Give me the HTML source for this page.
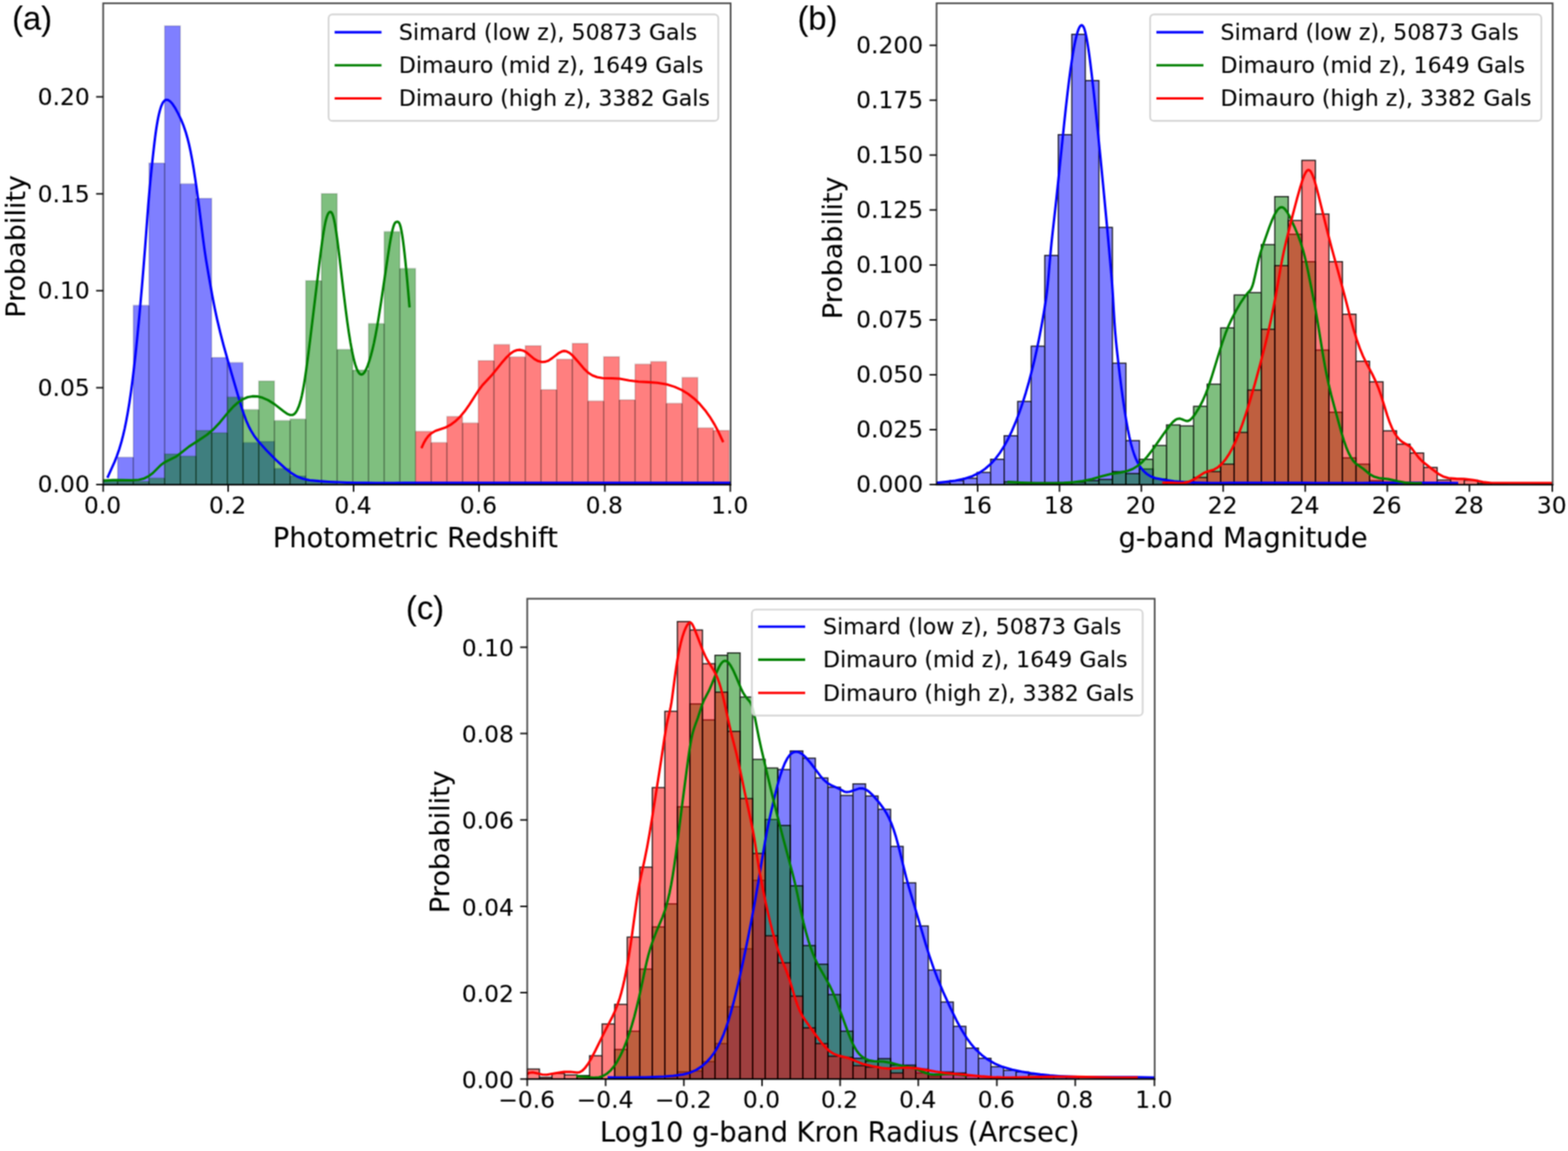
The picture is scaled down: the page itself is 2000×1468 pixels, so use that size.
<!DOCTYPE html>
<html lang="en"><head><meta charset="utf-8"><title>Galaxy sample distributions</title>
<style>html,body{margin:0;padding:0;background:#fff}body{width:2000px;height:1468px;overflow:hidden}svg{display:block}text{font-family:"DejaVu Sans","Liberation Sans",sans-serif;fill:#000;stroke:#000;stroke-width:0.1px}.tk{font-size:29.9px}.lg{font-size:28.2px}.lb{font-size:34.8px}.pn{font-family:"Liberation Sans","DejaVu Sans",sans-serif;font-size:41.8px}</style></head><body>
<svg width="2000" height="1468" viewBox="0 0 2000 1468">
<defs><filter id="soft" x="0" y="0" width="2000" height="1468" filterUnits="userSpaceOnUse" color-interpolation-filters="sRGB"><feConvolveMatrix order="3" kernelMatrix="0.0625 0.1250 0.0625 0.1250 0.2500 0.1250 0.0625 0.1250 0.0625" edgeMode="duplicate" preserveAlpha="true"/></filter>
<clipPath id="cpa"><rect x="131.6" y="4.2" width="800.3" height="614"/></clipPath>
<clipPath id="cpb"><rect x="1194.6" y="4.2" width="785.8" height="614"/></clipPath>
<clipPath id="cpc"><rect x="672.5" y="763.6" width="800.3" height="612.7"/></clipPath>
</defs>
<g filter="url(#soft)">
<rect x="-10" y="-10" width="2020" height="1488" fill="#fff"/>
<g id="panel-a">
<g clip-path="url(#cpa)">
<path d="M130 612H150V618.2H130ZM150 583.3H170V618.2H150ZM170 389.5H190V618.2H170ZM190 208H210V618.2H190ZM210 33H230V618.2H210ZM230 234.5H250V618.2H230ZM250 253H270V618.2H250ZM270 456H290V618.2H270ZM290 462.5H310V618.2H290ZM310 564.5H330V618.2H310ZM330 563H350V618.2H330ZM350 597.5H370V618.2H350ZM370 607H390V618.2H370ZM390 613H410V618.2H390ZM410 615H430V618.2H410Z" fill="#0000ff" fill-opacity="0.5"/>
<path d="M130 612H150M150 583.3H170M170 389.5H190M190 208H210M210 33H230M230 234.5H250M250 253H270M270 456H290M290 462.5H310M310 564.5H330M330 563H350M350 597.5H370M370 607H390M390 613H410M410 615H430M130 611V618.2M150 582.3V612M170 388.5V583.3M190 207V389.5M210 32V208M230 32V234.5M250 233.5V253M270 252V456M290 455V462.5M310 461.5V564.5M330 562V564.5M350 562V597.5M370 596.5V607M390 606V613M410 612V615M430 614V618.2" fill="none" stroke="#000" stroke-opacity="0.12" stroke-width="2.0"/>
<path d="M150 612V618.2M170 583.3V618.2M190 389.5V618.2M210 208V618.2M230 234.5V618.2M250 253V618.2M270 456V618.2M290 462.5V618.2M310 564.5V618.2M330 564.5V618.2M350 597.5V618.2M370 607V618.2M390 613V618.2M410 615V618.2" fill="none" stroke="#000" stroke-opacity="0.3" stroke-width="2.0"/>
<path d="M130 611.5H150V618.2H130ZM150 614H170V618.2H150ZM170 614H190V618.2H170ZM190 609.7H210V618.2H190ZM210 579H230V618.2H210ZM230 581.7H250V618.2H230ZM250 549H270V618.2H250ZM270 552H290V618.2H270ZM290 506.5H310V618.2H290ZM310 522.5H330V618.2H310ZM330 486H350V618.2H330ZM350 536.5H370V618.2H350ZM370 534.5H390V618.2H370ZM390 358H410V618.2H390ZM410 247H430V618.2H410ZM430 445.75H450V618.2H430ZM450 472H470V618.2H450ZM470 412.75H490V618.2H470ZM490 295.5H510V618.2H490ZM510 342.5H530V618.2H510Z" fill="#008000" fill-opacity="0.5"/>
<path d="M130 611.5H150M150 614H170M170 614H190M190 609.7H210M210 579H230M230 581.7H250M250 549H270M270 552H290M290 506.5H310M310 522.5H330M330 486H350M350 536.5H370M370 534.5H390M390 358H410M410 247H430M430 445.75H450M450 472H470M470 412.75H490M490 295.5H510M510 342.5H530M130 610.5V618.2M150 610.5V614M190 608.7V614M210 578V609.7M230 578V581.7M250 548V581.7M270 548V552M290 505.5V552M310 505.5V522.5M330 485V522.5M350 485V536.5M370 533.5V536.5M390 357V534.5M410 246V358M430 246V445.75M450 444.75V472M470 411.75V472M490 294.5V412.75M510 294.5V342.5M530 341.5V618.2" fill="none" stroke="#000" stroke-opacity="0.12" stroke-width="2.0"/>
<path d="M150 614V618.2M170 614V618.2M190 614V618.2M210 609.7V618.2M230 581.7V618.2M250 581.7V618.2M270 552V618.2M290 552V618.2M310 522.5V618.2M330 522.5V618.2M350 536.5V618.2M370 536.5V618.2M390 534.5V618.2M410 358V618.2M430 445.75V618.2M450 472V618.2M470 472V618.2M490 412.75V618.2M510 342.5V618.2" fill="none" stroke="#000" stroke-opacity="0.3" stroke-width="2.0"/>
<path d="M530 550.25H550V618.2H530ZM550 564.5H570V618.2H550ZM570 531.25H590V618.2H570ZM590 539.5H610V618.2H590ZM610 460H630V618.2H610ZM630 439.5H650V618.2H630ZM650 455.25H670V618.2H650ZM670 441H690V618.2H670ZM690 497H710V618.2H690ZM710 458.25H730V618.2H710ZM730 438H750V618.2H730ZM750 511.5H770V618.2H750ZM770 455H790V618.2H770ZM790 510H810V618.2H790ZM810 464.5H830V618.2H810ZM830 461.25H850V618.2H830ZM850 514.5H870V618.2H850ZM870 481.5H890V618.2H870ZM890 545.75H910V618.2H890ZM910 549H930V618.2H910Z" fill="#ff0000" fill-opacity="0.5"/>
<path d="M530 550.25H550M550 564.5H570M570 531.25H590M590 539.5H610M610 460H630M630 439.5H650M650 455.25H670M670 441H690M690 497H710M710 458.25H730M730 438H750M750 511.5H770M770 455H790M790 510H810M810 464.5H830M830 461.25H850M850 514.5H870M870 481.5H890M890 545.75H910M910 549H930M530 549.25V618.2M550 549.25V564.5M570 530.25V564.5M590 530.25V539.5M610 459V539.5M630 438.5V460M650 438.5V455.25M670 440V455.25M690 440V497M710 457.25V497M730 437V458.25M750 437V511.5M770 454V511.5M790 454V510M810 463.5V510M830 460.25V464.5M850 460.25V514.5M870 480.5V514.5M890 480.5V545.75M910 544.75V549M930 548V618.2" fill="none" stroke="#000" stroke-opacity="0.12" stroke-width="2.0"/>
<path d="M550 564.5V618.2M570 564.5V618.2M590 539.5V618.2M610 539.5V618.2M630 460V618.2M650 455.25V618.2M670 455.25V618.2M690 497V618.2M710 497V618.2M730 458.25V618.2M750 511.5V618.2M770 511.5V618.2M790 510V618.2M810 510V618.2M830 464.5V618.2M850 514.5V618.2M870 514.5V618.2M890 545.75V618.2M910 549V618.2" fill="none" stroke="#000" stroke-opacity="0.3" stroke-width="2.0"/>
<path d="M137 609.31L146 589.33L149 581.81L152 573.21L155 563.14L157 555.41L159 546.74L161 537L163 526.09L165 513.88L167 500.26L169 485.13L171 468.51L173 450.47L175 431.1L177 410.49L179 388.7L181 365.84L183 341.89L185 316.6L188 276.32L189 263.19L190 250.77L191 239.28L192 228.62L193 218.59L195 199.7L196 190.64L197 181.99L198 173.92L199 166.58L200 160.01L201 154.17L202 149.02L203 144.52L204 140.64L205 137.34L206 134.57L207 132.31L208 130.51L210 128.17L212 127.24L214 127.42L217 129.23L220 132.55L223 137.06L227 144.38L231 152.69L234 160L237 168.78L239 175.7L241 183.64L243 192.76L245 203.19L247 214.94L249 227.87L251 241.82L254 264.37L259 304.5L260 312.17L261 319.41L263 332.59L266 350.33L271 378.38L274 393.75L277 407.62L281 424.41L285 439.84L291 461.29L303 502.46L308 519.13L311 528.25L314 536.32L317 543.2L320 549.05L324 555.56L329 562.2L340 574.47L352 586.58L364 597.51L372 603.63L379 607.78L386 610.54L395 612.46L407 613.63L419 614.44L431 615.04L443 615.45L455 615.72L467 615.87L479 615.93L491 615.94L503 615.93L515 615.92L527 615.9L539 615.9L551 615.89L563 615.88L575 615.88L587 615.88L599 615.87L611 615.87L623 615.87L635 615.87L647 615.88L659 615.88L671 615.88L683 615.88L695 615.89L707 615.89L719 615.9L731 615.9L743 615.9L755 615.91L767 615.91L779 615.91L791 615.92L803 615.92L815 615.92L827 615.92L839 615.92L851 615.92L863 615.91L875 615.91L887 615.9L899 615.9L911 615.89L923 615.88L932 615.87" fill="none" stroke="#0000ff" stroke-width="3.1" stroke-linejoin="round" stroke-linecap="butt"/>
<path d="M132 613.32L144 612.35L156 612.26L168 612.48L177 611.93L184 610.14L190 607.13L195 603.27L205 593.27L210 589.58L218 585.66L225 582.14L232 576.67L241 569.62L253 561.88L264 554.5L272 547.8L279 540.39L291 525.87L298 518.26L304 513.02L310 509.07L316 506.52L322 505.41L328 505.6L335 507.31L342 510.4L350 515.35L362 524.66L367 528.16L370 529.31L373 529.27L375 528.32L377 526.37L379 523.24L381 518.69L382 515.83L383 512.54L384 508.78L385 504.55L386 499.81L387 494.53L388 488.73L389 482.45L391 468.7L393 453.71L396 429.88L402 380.23L407 338.76L409 322.68L411 307.65L412 300.76L413 294.41L414 288.71L415 283.73L416 279.57L417 276.23L418 273.66L419 271.82L420 270.68L421 270.2L422 270.35L423 271.24L424 273.03L425 275.91L426 279.86L427 284.77L428 290.51L429 296.95L430 304.01L431 311.58L433 327.87L438 370.82L441 395.41L443 410.6L445 424.48L447 436.87L449 447.71L450 452.53L451 456.93L452 460.91L453 464.47L454 467.6L455 470.3L456 472.58L457 474.45L458 475.9L459 476.93L460 477.54L461 477.75L463 476.95L465 474.67L467 471.07L469 466.32L471 460.56L473 453.89L475 446.23L477 437.51L479 427.66L481 416.7L483 404.81L486 385.65L495 324.99L497 312.28L498 306.38L499 300.93L500 296.04L501 291.81L502 288.34L503 285.75L504 284.08L505 283.18L507 282.84L508 283.18L509 284.17L510 286.16L511 289.44L512 294.01L513 299.75L514 306.58L515 314.37L516 323.03L517 332.46L518 342.55L519 353.2L521 375.75L522.4 392.17" fill="none" stroke="#008000" stroke-width="3.1" stroke-linejoin="round" stroke-linecap="butt"/>
<path d="M537.5 571.66L540.5 565.06L543.5 559.89L546.5 555.96L550.5 552.28L555.5 549.48L567.5 545.54L574.5 541.94L580.5 537.59L586.5 531.93L592.5 524.86L598.5 516.32L610.5 497.72L615.5 491.12L627.5 478.29L639.5 463.36L646.5 455.27L651.5 450.64L655.5 447.98L659.5 446.45L663.5 446.15L667.5 447.14L671.5 449.48L681.5 457.82L686.5 460.54L691.5 461.68L695.5 461.38L699.5 459.95L704.5 456.65L712.5 450.43L716.5 448.28L719.5 447.62L722.5 448.05L726.5 450.16L730.5 453.62L737.5 461.57L745.5 470.98L750.5 475.55L755.5 478.73L761.5 481.05L768.5 482.25L780.5 482.47L790.5 483.03L802.5 485.2L814.5 486.8L826.5 487.39L838.5 488.28L850.5 490.34L860.5 493.37L869.5 497.42L877.5 502.27L885.5 508.49L892.5 515.22L899.5 523.4L905.5 531.79L911.5 541.63L916.5 551.06L922.5 564" fill="none" stroke="#ff0000" stroke-width="3.1" stroke-linejoin="round" stroke-linecap="butt"/>
</g>
<rect x="419.1" y="18.4" width="497.1" height="135.8" rx="5" ry="5" fill="#fff" fill-opacity="0.8" stroke="#cccccc" stroke-opacity="0.85" stroke-width="2.2"/>
<path d="M426.8 41.1H486.6" stroke="#0000ff" stroke-width="3.1"/>
<text class="lg" x="508.8" y="50.6">Simard (low z), 50873 Gals</text>
<path d="M426.8 83.2H486.6" stroke="#008000" stroke-width="3.1"/>
<text class="lg" x="508.8" y="92.9">Dimauro (mid z), 1649 Gals</text>
<path d="M426.8 125.5H486.6" stroke="#ff0000" stroke-width="3.1"/>
<text class="lg" x="508.8" y="135.3">Dimauro (high z), 3382 Gals</text>
<rect x="131.6" y="4.2" width="800.3" height="614" fill="none" stroke="#000" stroke-width="2.1" stroke-opacity="0.72"/>
<path d="M130.6 618.2H932.9" stroke="#000" stroke-width="1.5" fill="none"/>
<path d="M131.6 618.2v9M291 618.2v9M451 618.2v9M611 618.2v9M771.5 618.2v9M931.5 618.2v9M131.6 618h-9M131.6 494.4h-9M131.6 370.8h-9M131.6 247.2h-9M131.6 123.6h-9" stroke="#000" stroke-width="2" stroke-opacity="0.92" fill="none"/>
<text class="tk" text-anchor="middle" x="130.8" y="655.2">0.0</text>
<text class="tk" text-anchor="middle" x="290.2" y="655.2">0.2</text>
<text class="tk" text-anchor="middle" x="450.2" y="655.2">0.4</text>
<text class="tk" text-anchor="middle" x="610.2" y="655.2">0.6</text>
<text class="tk" text-anchor="middle" x="770.7" y="655.2">0.8</text>
<text class="tk" text-anchor="middle" x="930.7" y="655.2">1.0</text>
<text class="tk" text-anchor="end" x="114.6" y="628.3">0.00</text>
<text class="tk" text-anchor="end" x="114.6" y="504.7">0.05</text>
<text class="tk" text-anchor="end" x="114.6" y="381.1">0.10</text>
<text class="tk" text-anchor="end" x="114.6" y="257.5">0.15</text>
<text class="tk" text-anchor="end" x="114.6" y="133.9">0.20</text>
<text class="lb" text-anchor="middle" x="529.8" y="698.2">Photometric Redshift</text>
<text class="lb" style="font-size:34.4px" text-anchor="middle" transform="translate(32.4 314.3) rotate(-90)">Probability</text>
<text class="pn" x="15.4" y="37.6">(a)</text>
</g>
<g id="panel-b">
<g clip-path="url(#cpb)">
<path d="M1194.5 615.5H1211.76V618.2H1194.5ZM1211.76 613H1229.02V618.2H1211.76ZM1229.02 610H1246.28V618.2H1229.02ZM1246.28 602.5H1263.54V618.2H1246.28ZM1263.54 585.75H1280.8V618.2H1263.54ZM1280.8 555.75H1298.06V618.2H1280.8ZM1298.06 512H1315.32V618.2H1298.06ZM1315.32 441.5H1332.58V618.2H1315.32ZM1332.58 325.75H1349.84V618.2H1332.58ZM1349.84 171.75H1367.1V618.2H1349.84ZM1367.1 43.75H1384.36V618.2H1367.1ZM1384.36 102.75H1401.62V618.2H1384.36ZM1401.62 290H1418.88V618.2H1401.62ZM1418.88 463.25H1436.14V618.2H1418.88ZM1436.14 562H1453.4V618.2H1436.14ZM1453.4 598.25H1470.66V618.2H1453.4ZM1470.66 610.75H1487.92V618.2H1470.66ZM1487.92 614H1505.18V618.2H1487.92ZM1505.18 615H1522.44V618.2H1505.18Z" fill="#0000ff" fill-opacity="0.5"/>
<path d="M1194.5 615.5H1211.76M1211.76 613H1229.02M1229.02 610H1246.28M1246.28 602.5H1263.54M1263.54 585.75H1280.8M1280.8 555.75H1298.06M1298.06 512H1315.32M1315.32 441.5H1332.58M1332.58 325.75H1349.84M1349.84 171.75H1367.1M1367.1 43.75H1384.36M1384.36 102.75H1401.62M1401.62 290H1418.88M1418.88 463.25H1436.14M1436.14 562H1453.4M1453.4 598.25H1470.66M1470.66 610.75H1487.92M1487.92 614H1505.18M1505.18 615H1522.44M1194.5 614.75V618.2M1211.76 612.25V615.5M1229.02 609.25V613M1246.28 601.75V610M1263.54 585V602.5M1280.8 555V585.75M1298.06 511.25V555.75M1315.32 440.75V512M1332.58 325V441.5M1349.84 171V325.75M1367.1 43V171.75M1384.36 43V102.75M1401.62 102V290M1418.88 289.25V463.25M1436.14 462.5V562M1453.4 561.25V598.25M1470.66 597.5V610.75M1487.92 610V614M1505.18 613.25V615M1522.44 614.25V618.2" fill="none" stroke="#000" stroke-opacity="0.85" stroke-width="1.5"/>
<path d="M1211.76 615.5V618.2M1229.02 613V618.2M1246.28 610V618.2M1263.54 602.5V618.2M1280.8 585.75V618.2M1298.06 555.75V618.2M1315.32 512V618.2M1332.58 441.5V618.2M1349.84 325.75V618.2M1367.1 171.75V618.2M1384.36 102.75V618.2M1401.62 290V618.2M1418.88 463.25V618.2M1436.14 562V618.2M1453.4 598.25V618.2M1470.66 610.75V618.2M1487.92 614V618.2M1505.18 615V618.2" fill="none" stroke="#000" stroke-opacity="0.9" stroke-width="1.5"/>
<path d="M1280.8 614.5H1298.06V618.2H1280.8ZM1298.06 615.5H1315.32V618.2H1298.06ZM1315.32 615.5H1332.58V618.2H1315.32ZM1332.58 615.5H1349.84V618.2H1332.58ZM1349.84 615.5H1367.1V618.2H1349.84ZM1367.1 615H1384.36V618.2H1367.1ZM1384.36 613H1401.62V618.2H1384.36ZM1401.62 611.5H1418.88V618.2H1401.62ZM1418.88 601.5H1436.14V618.2H1418.88ZM1436.14 604H1453.4V618.2H1436.14ZM1453.4 585.75H1470.66V618.2H1453.4ZM1470.66 568.25H1487.92V618.2H1470.66ZM1487.92 542H1505.18V618.2H1487.92ZM1505.18 543.25H1522.44V618.2H1505.18ZM1522.44 518.25H1539.7V618.2H1522.44ZM1539.7 490H1556.96V618.2H1539.7ZM1556.96 418.25H1574.22V618.2H1556.96ZM1574.22 376.25H1591.48V618.2H1574.22ZM1591.48 373.25H1608.74V618.2H1591.48ZM1608.74 312H1626V618.2H1608.74ZM1626 250.75H1643.26V618.2H1626ZM1643.26 298.75H1660.52V618.2H1643.26ZM1660.52 333.75H1677.78V618.2H1660.52ZM1677.78 446.5H1695.04V618.2H1677.78ZM1695.04 525.75H1712.3V618.2H1695.04ZM1712.3 584H1729.56V618.2H1712.3ZM1729.56 592H1746.82V618.2H1729.56ZM1746.82 613H1764.08V618.2H1746.82ZM1764.08 614.5H1781.34V618.2H1764.08Z" fill="#008000" fill-opacity="0.5"/>
<path d="M1280.8 614.5H1298.06M1298.06 615.5H1315.32M1315.32 615.5H1332.58M1332.58 615.5H1349.84M1349.84 615.5H1367.1M1367.1 615H1384.36M1384.36 613H1401.62M1401.62 611.5H1418.88M1418.88 601.5H1436.14M1436.14 604H1453.4M1453.4 585.75H1470.66M1470.66 568.25H1487.92M1487.92 542H1505.18M1505.18 543.25H1522.44M1522.44 518.25H1539.7M1539.7 490H1556.96M1556.96 418.25H1574.22M1574.22 376.25H1591.48M1591.48 373.25H1608.74M1608.74 312H1626M1626 250.75H1643.26M1643.26 298.75H1660.52M1660.52 333.75H1677.78M1677.78 446.5H1695.04M1695.04 525.75H1712.3M1712.3 584H1729.56M1729.56 592H1746.82M1746.82 613H1764.08M1764.08 614.5H1781.34M1280.8 613.75V618.2M1298.06 613.75V615.5M1384.36 612.25V615M1401.62 610.75V613M1418.88 600.75V611.5M1436.14 600.75V604M1453.4 585V604M1470.66 567.5V585.75M1487.92 541.25V568.25M1505.18 541.25V543.25M1522.44 517.5V543.25M1539.7 489.25V518.25M1556.96 417.5V490M1574.22 375.5V418.25M1591.48 372.5V376.25M1608.74 311.25V373.25M1626 250V312M1643.26 250V298.75M1660.52 298V333.75M1677.78 333V446.5M1695.04 445.75V525.75M1712.3 525V584M1729.56 583.25V592M1746.82 591.25V613M1764.08 612.25V614.5M1781.34 613.75V618.2" fill="none" stroke="#000" stroke-opacity="0.85" stroke-width="1.5"/>
<path d="M1298.06 615.5V618.2M1315.32 615.5V618.2M1332.58 615.5V618.2M1349.84 615.5V618.2M1367.1 615.5V618.2M1384.36 615V618.2M1401.62 613V618.2M1418.88 611.5V618.2M1436.14 604V618.2M1453.4 604V618.2M1470.66 585.75V618.2M1487.92 568.25V618.2M1505.18 543.25V618.2M1522.44 543.25V618.2M1539.7 518.25V618.2M1556.96 490V618.2M1574.22 418.25V618.2M1591.48 376.25V618.2M1608.74 373.25V618.2M1626 312V618.2M1643.26 298.75V618.2M1660.52 333.75V618.2M1677.78 446.5V618.2M1695.04 525.75V618.2M1712.3 584V618.2M1729.56 592V618.2M1746.82 613V618.2M1764.08 614.5V618.2" fill="none" stroke="#000" stroke-opacity="0.9" stroke-width="1.5"/>
<path d="M1505.18 614.5H1522.44V618.2H1505.18ZM1522.44 609H1539.7V618.2H1522.44ZM1539.7 601.5H1556.96V618.2H1539.7ZM1556.96 592H1574.22V618.2H1556.96ZM1574.22 551.5H1591.48V618.2H1574.22ZM1591.48 497.5H1608.74V618.2H1591.48ZM1608.74 420H1626V618.2H1608.74ZM1626 338.75H1643.26V618.2H1626ZM1643.26 281.25H1660.52V618.2H1643.26ZM1660.52 204.5H1677.78V618.2H1660.52ZM1677.78 273H1695.04V618.2H1677.78ZM1695.04 333.75H1712.3V618.2H1695.04ZM1712.3 400.75H1729.56V618.2H1712.3ZM1729.56 460.75H1746.82V618.2H1729.56ZM1746.82 487H1764.08V618.2H1746.82ZM1764.08 549.5H1781.34V618.2H1764.08ZM1781.34 566.5H1798.6V618.2H1781.34ZM1798.6 577.75H1815.86V618.2H1798.6ZM1815.86 596.25H1833.12V618.2H1815.86ZM1833.12 612.2H1850.38V618.2H1833.12ZM1850.38 610.5H1867.64V618.2H1850.38ZM1867.64 612.6H1884.9V618.2H1867.64ZM1884.9 616.3H1902.16V618.2H1884.9Z" fill="#ff0000" fill-opacity="0.5"/>
<path d="M1505.18 614.5H1522.44M1522.44 609H1539.7M1539.7 601.5H1556.96M1556.96 592H1574.22M1574.22 551.5H1591.48M1591.48 497.5H1608.74M1608.74 420H1626M1626 338.75H1643.26M1643.26 281.25H1660.52M1660.52 204.5H1677.78M1677.78 273H1695.04M1695.04 333.75H1712.3M1712.3 400.75H1729.56M1729.56 460.75H1746.82M1746.82 487H1764.08M1764.08 549.5H1781.34M1781.34 566.5H1798.6M1798.6 577.75H1815.86M1815.86 596.25H1833.12M1833.12 612.2H1850.38M1850.38 610.5H1867.64M1867.64 612.6H1884.9M1884.9 616.3H1902.16M1505.18 613.75V618.2M1522.44 608.25V614.5M1539.7 600.75V609M1556.96 591.25V601.5M1574.22 550.75V592M1591.48 496.75V551.5M1608.74 419.25V497.5M1626 338V420M1643.26 280.5V338.75M1660.52 203.75V281.25M1677.78 203.75V273M1695.04 272.25V333.75M1712.3 333V400.75M1729.56 400V460.75M1746.82 460V487M1764.08 486.25V549.5M1781.34 548.75V566.5M1798.6 565.75V577.75M1815.86 577V596.25M1833.12 595.5V612.2M1850.38 609.75V612.2M1867.64 609.75V612.6M1884.9 611.85V616.3M1902.16 615.55V618.2" fill="none" stroke="#000" stroke-opacity="0.85" stroke-width="1.5"/>
<path d="M1522.44 614.5V618.2M1539.7 609V618.2M1556.96 601.5V618.2M1574.22 592V618.2M1591.48 551.5V618.2M1608.74 497.5V618.2M1626 420V618.2M1643.26 338.75V618.2M1660.52 281.25V618.2M1677.78 273V618.2M1695.04 333.75V618.2M1712.3 400.75V618.2M1729.56 460.75V618.2M1746.82 487V618.2M1764.08 549.5V618.2M1781.34 566.5V618.2M1798.6 577.75V618.2M1815.86 596.25V618.2M1833.12 612.2V618.2M1850.38 612.2V618.2M1867.64 612.6V618.2M1884.9 616.3V618.2" fill="none" stroke="#000" stroke-opacity="0.9" stroke-width="1.5"/>
<path d="M1194.5 615.84L1206.5 614.49L1218.5 612.96L1230.5 610.49L1240.5 607.17L1249.5 602.76L1256.5 598.04L1263.5 591.92L1269.5 585.34L1275.5 577.36L1280.5 569.52L1285.5 560.49L1290.5 550.17L1295.5 538.46L1300.5 525.25L1304.5 513.51L1308.5 500.68L1312.5 486.7L1316.5 471.45L1319.5 459.03L1322.5 445.64L1325.5 431.15L1328.5 415.43L1331.5 398.36L1333.5 386.1L1334.5 379.22L1335.5 371.26L1336.5 361.8L1337.5 350.96L1339.5 327.86L1340.5 316.98L1341.5 307L1342.5 297.69L1346.5 262.15L1349.5 233.98L1357.5 156.14L1359.5 137.47L1361.5 119.81L1363.5 103.37L1365.5 88.29L1367.5 74.69L1368.5 68.5L1369.5 62.72L1370.5 57.38L1371.5 52.49L1372.5 48.07L1373.5 44.14L1374.5 40.71L1375.5 37.8L1376.5 35.44L1377.5 33.67L1378.5 32.55L1379.5 32.1L1380.5 32.39L1381.5 33.45L1382.5 35.33L1383.5 38.07L1384.5 41.72L1385.5 46.22L1386.5 51.49L1387.5 57.45L1388.5 64.02L1389.5 71.12L1390.5 78.69L1392.5 94.97L1394.5 112.38L1396.5 130.7L1399.5 159.56L1403.5 199.67L1407.5 240.86L1411.5 283.27L1414.5 316.04L1417.5 349.75L1418.5 361.75L1419.5 376.85L1420.5 394.55L1421.5 410.96L1422.5 424.38L1423.5 435.54L1424.5 445.24L1426.5 463.06L1428.5 479.87L1430.5 495.65L1432.5 510.33L1434.5 523.86L1436.5 536.2L1438.5 547.3L1440.5 557.09L1442.5 565.59L1444.5 572.9L1446.5 579.13L1448.5 584.41L1451.5 590.8L1454.5 595.69L1458.5 600.59L1462.5 604.25L1467.5 607.45L1473.5 609.8L1485.5 612.13L1497.5 613.67L1509.5 614.75L1521.5 615.45L1533.5 615.84L1545.5 615.99L1557.5 615.99L1569.5 615.91L1581.5 615.83L1593.5 615.78L1605.5 615.76L1617.5 615.77L1629.5 615.8L1641.5 615.83L1653.5 615.88L1665.5 615.91L1677.5 615.94L1689.5 615.96L1701.5 615.96L1713.5 615.96L1725.5 615.95L1737.5 615.94L1749.5 615.92L1761.5 615.9L1773.5 615.88L1785.5 615.87L1797.5 615.86L1809.5 615.86L1821.5 615.86L1833.5 615.88L1845.5 615.91L1857.5 615.95L1860 615.97" fill="none" stroke="#0000ff" stroke-width="3.1" stroke-linejoin="round" stroke-linecap="butt"/>
<path d="M1285 614.67L1297 615.3L1309 615.85L1321 616.24L1333 616.42L1345 616.31L1357 615.87L1369 614.98L1381 613.42L1393 610.9L1405 607.61L1417 604.58L1429 602.62L1438 600.73L1445 597.97L1451 594.28L1457 589.22L1463 582.74L1471 572.41L1483 555.21L1492 542.73L1496 538.21L1499 535.7L1502 534.18L1505 533.9L1509 535.33L1513 536.92L1515 537L1518 535.62L1521 532.73L1525 527.29L1530 519.07L1534 511.27L1538 502.11L1541 494.21L1545 482.36L1553 456.35L1559 437.18L1563 425.69L1567 415.7L1571 406.98L1577 395.53L1583 385.26L1588 377.88L1592 373.11L1595 369.83L1596 368.2L1597 365.98L1598 363.04L1599 359.46L1601 350.97L1604 337.09L1606 328.72L1608 321.61L1611 312.45L1619 289.77L1623 279.63L1626 273.25L1629 268.33L1631 266.03L1633 264.65L1635 264.3L1637 265.03L1639 266.74L1642 270.83L1645 276.27L1651 289.23L1656 301.01L1659 309.21L1662 318.84L1664 326.28L1666 334.69L1669 348.87L1676 384.31L1678 395.14L1681 412.78L1687 449.66L1690 466.92L1692 477.37L1695 491.47L1698 503.95L1702 518.84L1711 551.65L1714 561.54L1717 570.06L1720 577.23L1723 583.07L1726 587.62L1729 590.91L1734 594.5L1739 597.94L1748 605.45L1753 608.07L1759 609.67L1771 611.11L1783 613.7L1795 615.9L1806 616.62L1813.75 616.08" fill="none" stroke="#008000" stroke-width="3.1" stroke-linejoin="round" stroke-linecap="butt"/>
<path d="M1482.5 615.91L1490.5 615.47L1502.5 616.12L1510.5 615.77L1516.5 614.32L1523.5 611.14L1535.5 603.2L1540.5 601.14L1548.5 598.9L1553.5 596L1558.5 591.53L1563.5 585.44L1567.5 579.39L1571.5 572.25L1575.5 564.02L1579.5 554.67L1584.5 541.47L1589.5 526.77L1594.5 510.75L1600.5 490.05L1607.5 464.27L1613.5 440.88L1617.5 424.15L1621.5 406.07L1624.5 391.41L1627.5 375.62L1630.5 358.6L1633.5 341.28L1635.5 330.55L1637.5 320.9L1640.5 307.86L1648.5 275.71L1654.5 252.91L1658.5 238.74L1661.5 229.19L1663.5 223.9L1665.5 219.86L1666.5 218.4L1667.5 217.38L1668.5 216.84L1669.5 216.81L1670.5 217.33L1671.5 218.36L1672.5 219.87L1674.5 224.15L1676.5 229.85L1678.5 236.63L1681.5 248.11L1693.5 296.85L1698.5 316.23L1710.5 359.81L1716.5 382.72L1722.5 405.87L1726.5 420.19L1730.5 433.05L1734.5 444.39L1738.5 454.18L1742.5 462.45L1750.5 477.49L1754.5 485.97L1758.5 495.73L1761.5 504.15L1765.5 516.96L1769.5 530.04L1772.5 538.65L1775.5 545.9L1778.5 551.81L1781.5 556.49L1784.5 560.1L1788.5 563.6L1797.5 568.89L1800.5 571.64L1805.5 578.32L1809.5 583.58L1814.5 588.75L1826.5 598.29L1835.5 604.96L1841.5 608.11L1847.5 609.8L1857.5 610.66L1869.5 611.01L1879.5 612.18L1891.5 614.84L1902.5 616.03L1914.5 616.16L1926.5 616L1938.5 615.97L1950.5 616.04L1962.5 616.12L1974.5 616.14L1979.65 616.12" fill="none" stroke="#ff0000" stroke-width="3.1" stroke-linejoin="round" stroke-linecap="butt"/>
</g>
<rect x="1467" y="18.4" width="499" height="135.8" rx="5" ry="5" fill="#fff" fill-opacity="0.8" stroke="#cccccc" stroke-opacity="0.85" stroke-width="2.2"/>
<path d="M1475 41.1H1535" stroke="#0000ff" stroke-width="3.1"/>
<text class="lg" x="1556.8" y="50.6">Simard (low z), 50873 Gals</text>
<path d="M1475 83.2H1535" stroke="#008000" stroke-width="3.1"/>
<text class="lg" x="1556.8" y="92.9">Dimauro (mid z), 1649 Gals</text>
<path d="M1475 125.5H1535" stroke="#ff0000" stroke-width="3.1"/>
<text class="lg" x="1556.8" y="135.3">Dimauro (high z), 3382 Gals</text>
<rect x="1194.6" y="4.2" width="785.8" height="614" fill="none" stroke="#000" stroke-width="2.1" stroke-opacity="0.72"/>
<path d="M1193.6 618.2H1981.4" stroke="#000" stroke-width="1.5" fill="none"/>
<path d="M1247 618.2v9M1351.4 618.2v9M1455.8 618.2v9M1560.2 618.2v9M1664.8 618.2v9M1769.5 618.2v9M1874.3 618.2v9M1980 618.2v9M1194.6 618h-9M1194.6 548h-9M1194.6 477.9h-9M1194.6 407.9h-9M1194.6 337.9h-9M1194.6 267.8h-9M1194.6 197.8h-9M1194.6 127.8h-9M1194.6 57.7h-9" stroke="#000" stroke-width="2" stroke-opacity="0.92" fill="none"/>
<text class="tk" text-anchor="middle" x="1246.2" y="655.2">16</text>
<text class="tk" text-anchor="middle" x="1350.6" y="655.2">18</text>
<text class="tk" text-anchor="middle" x="1455" y="655.2">20</text>
<text class="tk" text-anchor="middle" x="1559.4" y="655.2">22</text>
<text class="tk" text-anchor="middle" x="1664" y="655.2">24</text>
<text class="tk" text-anchor="middle" x="1768.7" y="655.2">26</text>
<text class="tk" text-anchor="middle" x="1873.5" y="655.2">28</text>
<text class="tk" text-anchor="middle" x="1979.2" y="655.2">30</text>
<text class="tk" text-anchor="end" x="1177.6" y="628.3">0.000</text>
<text class="tk" text-anchor="end" x="1177.6" y="558.3">0.025</text>
<text class="tk" text-anchor="end" x="1177.6" y="488.2">0.050</text>
<text class="tk" text-anchor="end" x="1177.6" y="418.2">0.075</text>
<text class="tk" text-anchor="end" x="1177.6" y="348.2">0.100</text>
<text class="tk" text-anchor="end" x="1177.6" y="278.1">0.125</text>
<text class="tk" text-anchor="end" x="1177.6" y="208.1">0.150</text>
<text class="tk" text-anchor="end" x="1177.6" y="138.1">0.175</text>
<text class="tk" text-anchor="end" x="1177.6" y="68">0.200</text>
<text class="lb" text-anchor="middle" x="1585.6" y="698.2">g-band Magnitude</text>
<text class="lb" style="font-size:34.4px" text-anchor="middle" transform="translate(1074 316) rotate(-90)">Probability</text>
<text class="pn" x="1017.2" y="37.6">(b)</text>
</g>
<g id="panel-c">
<g clip-path="url(#cpc)">
<path d="M848 1373H864V1376.3H848ZM864 1367H880V1376.3H864ZM880 1366H896V1376.3H880ZM896 1354H912V1376.3H896ZM912 1331H928V1376.3H912ZM928 1284H944V1376.3H928ZM944 1210.25H960V1376.3H944ZM960 1122.75H976V1376.3H960ZM976 1045.25H992V1376.3H976ZM992 981.5H1008V1376.3H992ZM1008 957.75H1024V1376.3H1008ZM1024 967H1040V1376.3H1024ZM1040 992.25H1056V1376.3H1040ZM1056 1004H1072V1376.3H1056ZM1072 1014.5H1088V1376.3H1072ZM1088 999.75H1104V1376.3H1088ZM1104 1015.25H1120V1376.3H1104ZM1120 1032.25H1136V1376.3H1120ZM1136 1079.5H1152V1376.3H1136ZM1152 1126H1168V1376.3H1152ZM1168 1181H1184V1376.3H1168ZM1184 1237.25H1200V1376.3H1184ZM1200 1278H1216V1376.3H1200ZM1216 1309H1232V1376.3H1216ZM1232 1336.75H1248V1376.3H1232ZM1248 1349.75H1264V1376.3H1248ZM1264 1360.5H1280V1376.3H1264ZM1280 1365.25H1296V1376.3H1280ZM1296 1367.25H1312V1376.3H1296ZM1312 1370.5H1328V1376.3H1312ZM1328 1372H1344V1376.3H1328ZM1344 1373H1360V1376.3H1344ZM1360 1374H1376V1376.3H1360Z" fill="#0000ff" fill-opacity="0.5"/>
<path d="M848 1373H864M864 1367H880M880 1366H896M896 1354H912M912 1331H928M928 1284H944M944 1210.25H960M960 1122.75H976M976 1045.25H992M992 981.5H1008M1008 957.75H1024M1024 967H1040M1040 992.25H1056M1056 1004H1072M1072 1014.5H1088M1088 999.75H1104M1104 1015.25H1120M1120 1032.25H1136M1136 1079.5H1152M1152 1126H1168M1168 1181H1184M1184 1237.25H1200M1200 1278H1216M1216 1309H1232M1232 1336.75H1248M1248 1349.75H1264M1264 1360.5H1280M1280 1365.25H1296M1296 1367.25H1312M1312 1370.5H1328M1328 1372H1344M1344 1373H1360M1360 1374H1376M848 1372.25V1376.3M864 1366.25V1373M880 1365.25V1367M896 1353.25V1366M912 1330.25V1354M928 1283.25V1331M944 1209.5V1284M960 1122V1210.25M976 1044.5V1122.75M992 980.75V1045.25M1008 957V981.5M1024 957V967M1040 966.25V992.25M1056 991.5V1004M1072 1003.25V1014.5M1088 999V1014.5M1104 999V1015.25M1120 1014.5V1032.25M1136 1031.5V1079.5M1152 1078.75V1126M1168 1125.25V1181M1184 1180.25V1237.25M1200 1236.5V1278M1216 1277.25V1309M1232 1308.25V1336.75M1248 1336V1349.75M1264 1349V1360.5M1280 1359.75V1365.25M1296 1364.5V1367.25M1312 1366.5V1370.5M1328 1369.75V1372M1344 1371.25V1373M1360 1372.25V1374M1376 1373.25V1376.3" fill="none" stroke="#000" stroke-opacity="0.85" stroke-width="1.5"/>
<path d="M864 1373V1376.3M880 1367V1376.3M896 1366V1376.3M912 1354V1376.3M928 1331V1376.3M944 1284V1376.3M960 1210.25V1376.3M976 1122.75V1376.3M992 1045.25V1376.3M1008 981.5V1376.3M1024 967V1376.3M1040 992.25V1376.3M1056 1004V1376.3M1072 1014.5V1376.3M1088 1014.5V1376.3M1104 1015.25V1376.3M1120 1032.25V1376.3M1136 1079.5V1376.3M1152 1126V1376.3M1168 1181V1376.3M1184 1237.25V1376.3M1200 1278V1376.3M1216 1309V1376.3M1232 1336.75V1376.3M1248 1349.75V1376.3M1264 1360.5V1376.3M1280 1365.25V1376.3M1296 1367.25V1376.3M1312 1370.5V1376.3M1328 1372V1376.3M1344 1373V1376.3M1360 1374V1376.3" fill="none" stroke="#000" stroke-opacity="0.9" stroke-width="1.5"/>
<path d="M736 1372H752V1376.3H736ZM752 1374H768V1376.3H752ZM784 1338.5H800V1376.3H784ZM800 1315.25H816V1376.3H800ZM816 1236H832V1376.3H816ZM832 1182.25H848V1376.3H832ZM848 1152.75H864V1376.3H848ZM864 1029H880V1376.3H864ZM880 897.75H896V1376.3H880ZM896 918.25H912V1376.3H896ZM912 835.75H928V1376.3H912ZM928 832.75H944V1376.3H928ZM944 889H960V1376.3H944ZM960 968.5H976V1376.3H960ZM976 979.5H992V1376.3H976ZM992 1052.75H1008V1376.3H992ZM1008 1129.75H1024V1376.3H1008ZM1024 1206H1040V1376.3H1024ZM1040 1229.75H1056V1376.3H1040ZM1056 1268.5H1072V1376.3H1056ZM1072 1315.25H1088V1376.3H1072ZM1088 1349.75H1104V1376.3H1088ZM1104 1353.5H1120V1376.3H1104ZM1120 1350.25H1136V1376.3H1120ZM1136 1358.5H1152V1376.3H1136ZM1152 1358.5H1168V1376.3H1152ZM1168 1368.5H1184V1376.3H1168ZM1184 1373H1200V1376.3H1184Z" fill="#008000" fill-opacity="0.5"/>
<path d="M736 1372H752M752 1374H768M784 1338.5H800M800 1315.25H816M816 1236H832M832 1182.25H848M848 1152.75H864M864 1029H880M880 897.75H896M896 918.25H912M912 835.75H928M928 832.75H944M944 889H960M960 968.5H976M976 979.5H992M992 1052.75H1008M1008 1129.75H1024M1024 1206H1040M1040 1229.75H1056M1056 1268.5H1072M1072 1315.25H1088M1088 1349.75H1104M1104 1353.5H1120M1120 1350.25H1136M1136 1358.5H1152M1152 1358.5H1168M1168 1368.5H1184M1184 1373H1200M736 1371.25V1376.3M752 1371.25V1374M768 1373.25V1376.3M784 1337.75V1376.3M800 1314.5V1338.5M816 1235.25V1315.25M832 1181.5V1236M848 1152V1182.25M864 1028.25V1152.75M880 897V1029M896 897V918.25M912 835V918.25M928 832V835.75M944 832V889M960 888.25V968.5M976 967.75V979.5M992 978.75V1052.75M1008 1052V1129.75M1024 1129V1206M1040 1205.25V1229.75M1056 1229V1268.5M1072 1267.75V1315.25M1088 1314.5V1349.75M1104 1349V1353.5M1120 1349.5V1353.5M1136 1349.5V1358.5M1168 1357.75V1368.5M1184 1367.75V1373M1200 1372.25V1376.3" fill="none" stroke="#000" stroke-opacity="0.85" stroke-width="1.5"/>
<path d="M752 1374V1376.3M800 1338.5V1376.3M816 1315.25V1376.3M832 1236V1376.3M848 1182.25V1376.3M864 1152.75V1376.3M880 1029V1376.3M896 918.25V1376.3M912 918.25V1376.3M928 835.75V1376.3M944 889V1376.3M960 968.5V1376.3M976 979.5V1376.3M992 1052.75V1376.3M1008 1129.75V1376.3M1024 1206V1376.3M1040 1229.75V1376.3M1056 1268.5V1376.3M1072 1315.25V1376.3M1088 1349.75V1376.3M1104 1353.5V1376.3M1120 1353.5V1376.3M1136 1358.5V1376.3M1152 1358.5V1376.3M1168 1368.5V1376.3M1184 1373V1376.3" fill="none" stroke="#000" stroke-opacity="0.9" stroke-width="1.5"/>
<path d="M672 1363.5H688V1376.3H672ZM688 1374H704V1376.3H688ZM704 1369H720V1376.3H704ZM720 1371H736V1376.3H720ZM736 1372H752V1376.3H736ZM752 1346.5H768V1376.3H752ZM768 1306H784V1376.3H768ZM784 1281H800V1376.3H784ZM800 1195.25H816V1376.3H800ZM816 1106H832V1376.3H816ZM832 1004.5H848V1376.3H832ZM848 907.25H864V1376.3H848ZM864 792.75H880V1376.3H864ZM880 803.5H896V1376.3H880ZM896 846.5H912V1376.3H896ZM912 882.75H928V1376.3H912ZM928 932.75H944V1376.3H928ZM944 1018.5H960V1376.3H944ZM960 1088.5H976V1376.3H960ZM976 1193.5H992V1376.3H976ZM992 1228H1008V1376.3H992ZM1008 1270.5H1024V1376.3H1008ZM1024 1311H1040V1376.3H1024ZM1040 1331H1056V1376.3H1040ZM1056 1347.25H1072V1376.3H1056ZM1072 1348.5H1088V1376.3H1072ZM1088 1359.25H1104V1376.3H1088ZM1104 1361H1120V1376.3H1104ZM1120 1362.25H1136V1376.3H1120ZM1136 1368.5H1152V1376.3H1136ZM1152 1361H1168V1376.3H1152ZM1168 1363.5H1184V1376.3H1168ZM1184 1369.75H1200V1376.3H1184ZM1200 1367.25H1216V1376.3H1200ZM1216 1368.5H1232V1376.3H1216ZM1232 1372H1248V1376.3H1232ZM1248 1373H1264V1376.3H1248ZM1264 1374H1280V1376.3H1264Z" fill="#ff0000" fill-opacity="0.5"/>
<path d="M672 1363.5H688M688 1374H704M704 1369H720M720 1371H736M736 1372H752M752 1346.5H768M768 1306H784M784 1281H800M800 1195.25H816M816 1106H832M832 1004.5H848M848 907.25H864M864 792.75H880M880 803.5H896M896 846.5H912M912 882.75H928M928 932.75H944M944 1018.5H960M960 1088.5H976M976 1193.5H992M992 1228H1008M1008 1270.5H1024M1024 1311H1040M1040 1331H1056M1056 1347.25H1072M1072 1348.5H1088M1088 1359.25H1104M1104 1361H1120M1120 1362.25H1136M1136 1368.5H1152M1152 1361H1168M1168 1363.5H1184M1184 1369.75H1200M1200 1367.25H1216M1216 1368.5H1232M1232 1372H1248M1248 1373H1264M1264 1374H1280M672 1362.75V1376.3M688 1362.75V1374M704 1368.25V1374M720 1368.25V1371M736 1370.25V1372M752 1345.75V1372M768 1305.25V1346.5M784 1280.25V1306M800 1194.5V1281M816 1105.25V1195.25M832 1003.75V1106M848 906.5V1004.5M864 792V907.25M880 792V803.5M896 802.75V846.5M912 845.75V882.75M928 882V932.75M944 932V1018.5M960 1017.75V1088.5M976 1087.75V1193.5M992 1192.75V1228M1008 1227.25V1270.5M1024 1269.75V1311M1040 1310.25V1331M1056 1330.25V1347.25M1072 1346.5V1348.5M1088 1347.75V1359.25M1104 1358.5V1361M1120 1360.25V1362.25M1136 1361.5V1368.5M1152 1360.25V1368.5M1168 1360.25V1363.5M1184 1362.75V1369.75M1200 1366.5V1369.75M1216 1366.5V1368.5M1232 1367.75V1372M1248 1371.25V1373M1264 1372.25V1374M1280 1373.25V1376.3" fill="none" stroke="#000" stroke-opacity="0.85" stroke-width="1.5"/>
<path d="M688 1374V1376.3M704 1374V1376.3M720 1371V1376.3M736 1372V1376.3M752 1372V1376.3M768 1346.5V1376.3M784 1306V1376.3M800 1281V1376.3M816 1195.25V1376.3M832 1106V1376.3M848 1004.5V1376.3M864 907.25V1376.3M880 803.5V1376.3M896 846.5V1376.3M912 882.75V1376.3M928 932.75V1376.3M944 1018.5V1376.3M960 1088.5V1376.3M976 1193.5V1376.3M992 1228V1376.3M1008 1270.5V1376.3M1024 1311V1376.3M1040 1331V1376.3M1056 1347.25V1376.3M1072 1348.5V1376.3M1088 1359.25V1376.3M1104 1361V1376.3M1120 1362.25V1376.3M1136 1368.5V1376.3M1152 1368.5V1376.3M1168 1363.5V1376.3M1184 1369.75V1376.3M1200 1369.75V1376.3M1216 1368.5V1376.3M1232 1372V1376.3M1248 1373V1376.3M1264 1374V1376.3" fill="none" stroke="#000" stroke-opacity="0.9" stroke-width="1.5"/>
<path d="M775 1374.17L787 1374.22L799 1374.22L811 1374.15L823 1373.94L835 1373.56L847 1372.95L859 1372.07L871 1370.54L880 1368.18L888 1364.65L895 1360.08L901 1354.85L906 1349.39L911 1342.66L915 1336.1L919 1328.28L923 1319.03L926 1311.02L929 1302.02L932 1292.02L936 1277.29L940 1261.16L944 1243.83L949 1220.82L954 1196.61L959 1171.07L963 1149.43L967 1126.54L973 1090.33L976 1072.48L978 1061.49L980 1051.45L983 1037.71L989 1012.16L992 1000.42L995 989.97L998 981L1001 973.54L1004 967.67L1007 963.4L1010 960.64L1013 959.17L1016 958.83L1019 959.49L1023 961.71L1028 966.19L1034 973.3L1046 989.19L1051 994.9L1055 998.46L1060 1001.44L1070 1005.86L1077 1009.66L1080 1010.26L1084 1009.83L1096 1005.65L1100 1005.5L1104 1006.83L1108 1009.41L1113 1014L1121 1023.23L1127 1031.2L1131 1037.69L1134 1043.51L1137 1050.37L1140 1058.49L1143 1068.06L1146 1079.08L1151 1099.3L1156 1119.54L1159 1130.63L1171 1171.04L1181 1205L1186 1220.86L1191 1235.3L1196 1248.37L1203 1265.07L1212 1284.99L1220 1301.39L1227 1314.29L1233 1323.94L1239 1332.1L1245 1338.92L1252 1345.45L1260 1351.42L1269 1356.6L1279 1360.82L1291 1364.33L1303 1366.82L1315 1368.81L1327 1370.39L1339 1371.61L1351 1372.51L1363 1373.15L1375 1373.55L1387 1373.78L1399 1373.88L1411 1373.89L1423 1373.85L1435 1373.82L1447 1373.84L1459 1373.95L1471 1374.21L1472.5 1374.25" fill="none" stroke="#0000ff" stroke-width="3.1" stroke-linejoin="round" stroke-linecap="butt"/>
<path d="M735 1372.35L745 1373.23L757 1374.55L764 1373.96L769 1372.38L774 1369.49L779 1365.05L783 1360.27L787 1354.31L791 1347.09L795 1338.53L799 1328.55L803 1317.05L806 1307.39L809 1296.8L812 1285.22L815 1272.62L818 1258.96L823 1235.11L825 1226.25L827 1218.28L830 1207.88L833 1198.97L837 1188.71L845 1169.78L848 1161.44L850 1154.94L852 1147.46L854 1138.78L856 1128.71L858 1117.16L860 1104.18L862 1089.85L865 1066.62L870 1027.07L876 981.19L878 966.5L879 959.58L880 953.08L881 947.09L882 941.73L883 937.08L884 933.12L885 929.72L887 924L890 915.97L895 900.52L897 895.17L899 890.92L904 881.59L908 872.34L914 857.49L917 851.02L919 847.5L921 844.83L923 843.21L925 842.75L927 843.37L929 844.97L932 848.95L935 854.48L939 863.48L945 877.72L948 883.84L951 888.43L956 894.38L957 895.81L958 897.64L959 900.08L960 903.23L961 906.99L963 915.92L968 941.12L971 954.77L983 1005.87L990 1034.38L999 1069.33L1011 1114.4L1014 1126.49L1017 1140.01L1022 1163.9L1025 1177.09L1028 1188.9L1031 1199.39L1034 1208.65L1037 1216.75L1040 1223.78L1044 1231.87L1052 1245.78L1058 1256.51L1062 1264.88L1067 1276.97L1074 1295.79L1082 1317.64L1086 1327.43L1089 1333.8L1092 1339.07L1095 1343.23L1099 1347.33L1103 1350.09L1108 1352.18L1115 1353.47L1127 1354.06L1137 1355.76L1149 1359L1161 1361.24L1168 1363.18L1180 1368.28L1186 1370.09L1193 1370.69L1205 1369.93L1217 1369.9L1228 1371.31L1232.5 1372.32" fill="none" stroke="#008000" stroke-width="3.1" stroke-linejoin="round" stroke-linecap="butt"/>
<path d="M672.5 1369.79L675.5 1368.21L679.5 1367.75L685.5 1369.05L691.5 1370.54L697.5 1370.68L708.5 1368.84L719.5 1367.11L727.5 1367.02L736.5 1367.98L739.5 1367.42L742.5 1365.75L745.5 1362.95L749.5 1357.75L753.5 1351.22L759.5 1339.74L770.5 1317.31L780.5 1298.05L784.5 1289.27L787.5 1281.73L790.5 1272.88L792.5 1265.99L794.5 1258.16L796.5 1249.34L798.5 1239.51L800.5 1228.64L802.5 1216.73L804.5 1203.74L806.5 1189.7L811.5 1153.27L813.5 1139.84L814.5 1133.69L815.5 1128.02L817.5 1117.96L822.5 1095.18L825.5 1080.02L828.5 1063.24L831.5 1044.88L839.5 993.92L843.5 968.23L847.5 941.43L849.5 929.15L850.5 923.67L851.5 918.78L854.5 906.05L855.5 901.2L856.5 895.41L857.5 888.64L859.5 873.48L861.5 858.38L862.5 851.49L863.5 845.07L864.5 839.11L865.5 833.59L866.5 828.5L868.5 819.51L870.5 812.04L872.5 805.93L874.5 801.06L876.5 797.29L878.5 794.77L879.5 794.15L880.5 794.03L881.5 794.48L882.5 795.5L883.5 797.05L885.5 801.33L890.5 814.12L896.5 829.75L899.5 836.66L902.5 842.44L910.5 855.29L913.5 861.05L915.5 865.71L917.5 871.25L919.5 877.87L921.5 885.52L924.5 898.36L930.5 925.66L933.5 938.31L939.5 961.82L942.5 975.07L950.5 1013.23L958.5 1050.15L960.5 1060.32L962.5 1071.73L965.5 1091.12L967.5 1103.84L969.5 1115.34L972.5 1130.99L976.5 1150.47L979.5 1164.1L982.5 1176.76L985.5 1188.41L988.5 1199.05L991.5 1208.69L994.5 1217.33L998.5 1227.47L1003.5 1239.69L1006.5 1247.9L1009.5 1257.45L1014.5 1274.34L1017.5 1282.99L1020.5 1290.07L1023.5 1295.78L1027.5 1301.87L1039.5 1318.73L1047.5 1329.51L1053.5 1336.43L1058.5 1340.98L1063.5 1344.12L1069.5 1346.37L1081.5 1349.26L1090.5 1352.87L1100.5 1357.03L1112.5 1359.85L1124.5 1362.06L1134.5 1362.94L1146.5 1362.18L1157.5 1361.57L1169.5 1362.6L1181.5 1364.62L1193.5 1366.78L1205.5 1368.45L1217.5 1369.54L1229.5 1370.53L1241.5 1371.76L1253.5 1372.92L1265.5 1373.68L1277.5 1374.09L1289.5 1374.2L1301.5 1374.12L1313.5 1373.9L1325.5 1373.63L1337.5 1373.38L1349.5 1373.23L1361.5 1373.23L1373.5 1373.35L1385.5 1373.55L1397.5 1373.78L1409.5 1374.01L1421.5 1374.18L1433.5 1374.27L1445.5 1374.22L1451.25 1374.13" fill="none" stroke="#ff0000" stroke-width="3.1" stroke-linejoin="round" stroke-linecap="butt"/>
</g>
<rect x="959" y="777.5" width="498.5" height="135.2" rx="5" ry="5" fill="#fff" fill-opacity="0.8" stroke="#cccccc" stroke-opacity="0.85" stroke-width="2.2"/>
<path d="M967 799.3H1027" stroke="#0000ff" stroke-width="3.1"/>
<text class="lg" x="1049.8" y="808.8">Simard (low z), 50873 Gals</text>
<path d="M967 841.4H1027" stroke="#008000" stroke-width="3.1"/>
<text class="lg" x="1049.8" y="851.1">Dimauro (mid z), 1649 Gals</text>
<path d="M967 883.7H1027" stroke="#ff0000" stroke-width="3.1"/>
<text class="lg" x="1049.8" y="893.5">Dimauro (high z), 3382 Gals</text>
<rect x="672.5" y="763.6" width="800.3" height="612.7" fill="none" stroke="#000" stroke-width="2.1" stroke-opacity="0.72"/>
<path d="M671.5 1376.3H1473.8" stroke="#000" stroke-width="1.5" fill="none"/>
<path d="M672.5 1376.3v9M772.5 1376.3v9M872.3 1376.3v9M972 1376.3v9M1071.6 1376.3v9M1171.3 1376.3v9M1271.5 1376.3v9M1371.5 1376.3v9M1472.5 1376.3v9M672.5 1376.2h-9M672.5 1266h-9M672.5 1155.9h-9M672.5 1045.7h-9M672.5 935.6h-9M672.5 825.4h-9" stroke="#000" stroke-width="2" stroke-opacity="0.92" fill="none"/>
<text class="tk" text-anchor="middle" x="671.7" y="1413.3">−0.6</text>
<text class="tk" text-anchor="middle" x="771.7" y="1413.3">−0.4</text>
<text class="tk" text-anchor="middle" x="871.5" y="1413.3">−0.2</text>
<text class="tk" text-anchor="middle" x="971.2" y="1413.3">0.0</text>
<text class="tk" text-anchor="middle" x="1070.8" y="1413.3">0.2</text>
<text class="tk" text-anchor="middle" x="1170.5" y="1413.3">0.4</text>
<text class="tk" text-anchor="middle" x="1270.7" y="1413.3">0.6</text>
<text class="tk" text-anchor="middle" x="1370.7" y="1413.3">0.8</text>
<text class="tk" text-anchor="middle" x="1471.7" y="1413.3">1.0</text>
<text class="tk" text-anchor="end" x="655.5" y="1387.8">0.00</text>
<text class="tk" text-anchor="end" x="655.5" y="1277.6">0.02</text>
<text class="tk" text-anchor="end" x="655.5" y="1167.5">0.04</text>
<text class="tk" text-anchor="end" x="655.5" y="1057.3">0.06</text>
<text class="tk" text-anchor="end" x="655.5" y="947.2">0.08</text>
<text class="tk" text-anchor="end" x="655.5" y="837">0.10</text>
<text class="lb" text-anchor="middle" x="1071.1" y="1456">Log10 g-band Kron Radius (Arcsec)</text>
<text class="lb" style="font-size:34.4px" text-anchor="middle" transform="translate(573.4 1073.5) rotate(-90)">Probability</text>
<text class="pn" x="517.8" y="789.7">(c)</text>
</g>
</g>
</svg></body></html>
